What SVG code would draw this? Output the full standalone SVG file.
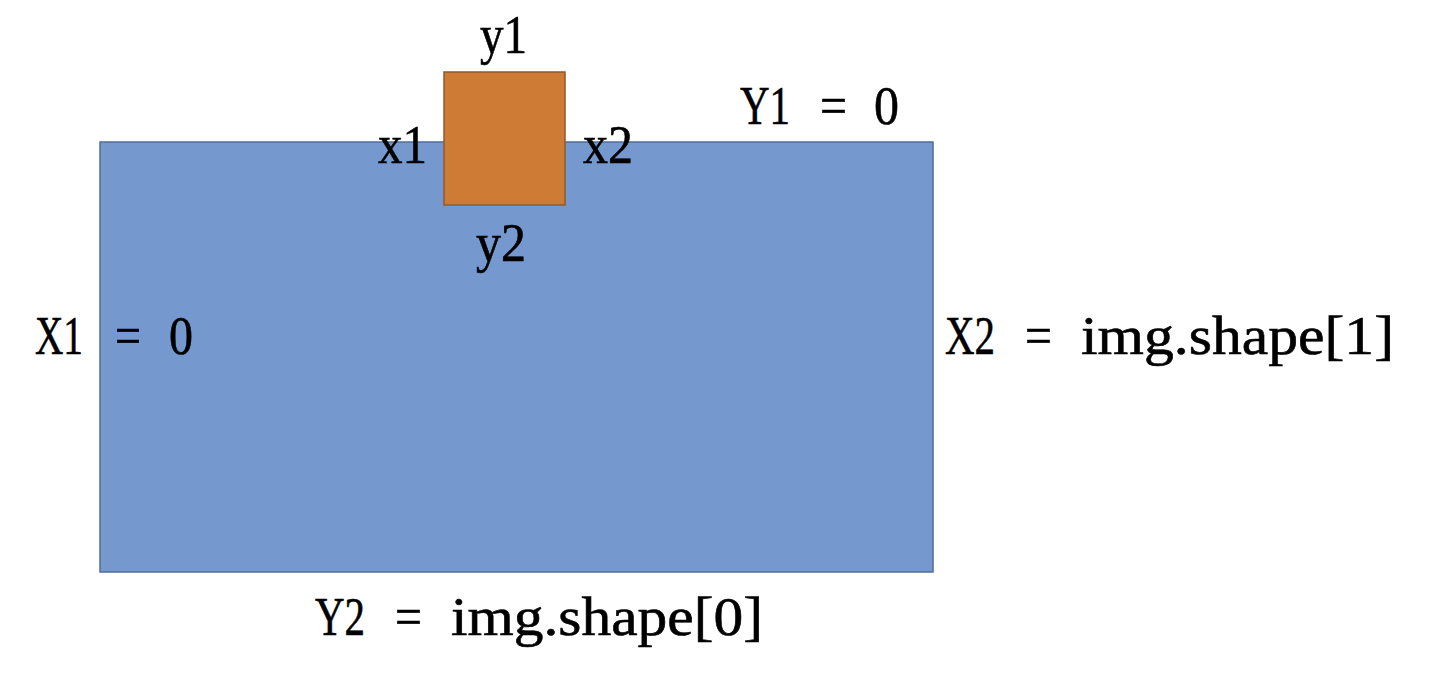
<svg xmlns="http://www.w3.org/2000/svg" width="1454" height="694" viewBox="0 0 1454 694">
<style>
.lbl{font-family:"Liberation Serif","Noto Sans CJK SC",serif;font-size:54px;fill:#000;stroke:#000;stroke-width:0.6}
.img{fill:#7599CF;stroke:#4E6D9C;stroke-width:1.5}
.box{fill:#CE7B35;stroke:#93582A;stroke-width:1.5}
</style>
<rect width="1454" height="694" fill="#fff"/>
<g id="image">
<rect class="img" x="100" y="142" width="833" height="430"/>
</g>
<g id="bbox">
<rect class="box" x="444" y="72" width="121" height="133"/>
</g>
<g id="connectors"></g>
<g id="labels">
<g id="lbl-y1"><text class="lbl" x="480" y="53" textLength="47" lengthAdjust="spacingAndGlyphs">y1</text></g>
<g id="lbl-x1"><text class="lbl" x="378" y="163" textLength="49" lengthAdjust="spacingAndGlyphs">x1</text></g>
<g id="lbl-x2"><text class="lbl" x="583" y="163" textLength="50" lengthAdjust="spacingAndGlyphs">x2</text></g>
<g id="lbl-y2"><text class="lbl" x="476" y="261" textLength="50" lengthAdjust="spacingAndGlyphs">y2</text></g>
<g id="lbl-Y1"><text class="lbl" y="124"><tspan x="740" textLength="50" lengthAdjust="spacingAndGlyphs">Y1</tspan> <tspan x="820" textLength="27" lengthAdjust="spacingAndGlyphs">=</tspan> <tspan x="874" textLength="25" lengthAdjust="spacingAndGlyphs">0</tspan></text></g>
<g id="lbl-X1"><text class="lbl" y="354"><tspan x="35" textLength="48" lengthAdjust="spacingAndGlyphs">X1</tspan> <tspan x="115" textLength="26" lengthAdjust="spacingAndGlyphs">=</tspan> <tspan x="169" textLength="24" lengthAdjust="spacingAndGlyphs">0</tspan></text></g>
<g id="lbl-X2"><text class="lbl" y="354"><tspan x="945" textLength="50" lengthAdjust="spacingAndGlyphs">X2</tspan> <tspan x="1025" textLength="27" lengthAdjust="spacingAndGlyphs">=</tspan> <tspan x="1081" textLength="313" lengthAdjust="spacingAndGlyphs">img.shape[1]</tspan></text></g>
<g id="lbl-Y2"><text class="lbl" y="635"><tspan x="315" textLength="50" lengthAdjust="spacingAndGlyphs">Y2</tspan> <tspan x="395" textLength="27" lengthAdjust="spacingAndGlyphs">=</tspan> <tspan x="451" textLength="312" lengthAdjust="spacingAndGlyphs">img.shape[0]</tspan></text></g>
</g>
</svg>
